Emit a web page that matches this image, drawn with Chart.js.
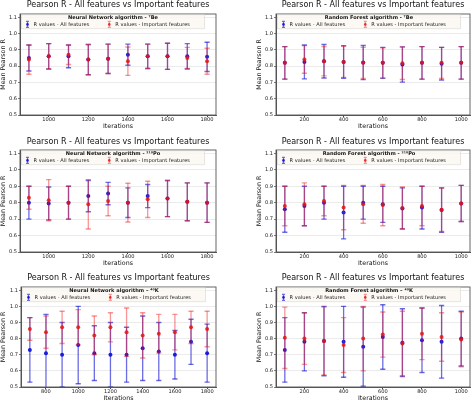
<!DOCTYPE html>
<html>
<head>
<meta charset="utf-8">
<script src="https://cdn.jsdelivr.net/npm/chart.js@4.4.0/dist/chart.umd.min.js"></script>
<style>
  html, body { margin: 0; padding: 0; background: #fff; }
  #wrap { position: relative; width: 474px; height: 402px; overflow: hidden; }
  #wrap canvas { position: absolute; }
</style>
</head>
<body>
<div id="wrap">
  <canvas id="c1"></canvas>
  <canvas id="c2"></canvas>
  <canvas id="c3"></canvas>
  <canvas id="c4"></canvas>
  <canvas id="c5"></canvas>
  <canvas id="c6"></canvas>
</div>
<script>
// Iterations on the x axis
const itersNN = [900, 1000, 1100, 1200, 1300, 1400, 1500, 1600, 1700, 1800];
const itersRF = [100, 200, 300, 400, 500, 600, 700, 800, 900, 1000];
const itersNNK = [700, 800, 900, 1000, 1100, 1200, 1300, 1400, 1500, 1600, 1700, 1800];

// tick labels
const xTicksNN = [1000, 1200, 1400, 1600, 1800];
const xTicksRF = [200, 400, 600, 800, 1000];
const xTicksNNK = [800, 1000, 1200, 1400, 1600, 1800];
const yTicks = [0.5, 0.6, 0.7, 0.8, 0.9, 1.0, 1.1];

const seriesLabels = ['R values - All features', 'R values - Important features'];
const plotTitle = 'Pearson R - All features vs Important features';
const legendTitles = [
  'Neural Network algorithm - \u2077Be',
  'Random Forest algorithm - \u2077Be',
  'Neural Network algorithm - \u00b2\u00b9\u2070Po',
  'Random Forest algorithm - \u00b2\u00b9\u2070Po',
  'Neural Network algorithm \u2013 \u2074\u2070K',
  'Random Forest algorithm \u2013 \u2074\u2070K'
];

// 7Be - neural network
const beNNAllMean = [0.85, 0.86, 0.86, 0.84, 0.845, 0.87, 0.86, 0.86, 0.86, 0.857];
const beNNAllErr  = [0.08, 0.078, 0.07, 0.093, 0.09, 0.065, 0.075, 0.08, 0.078, 0.09];
const beNNImpMean = [0.84, 0.86, 0.87, 0.84, 0.845, 0.83, 0.86, 0.86, 0.85, 0.83];
const beNNImpErr  = [0.09, 0.078, 0.06, 0.093, 0.09, 0.087, 0.075, 0.08, 0.065, 0.08];

// 7Be - random forest
const beRFAllMean = [0.82, 0.826, 0.83, 0.826, 0.822, 0.82, 0.81, 0.82, 0.815, 0.82];
const beRFAllErr  = [0.10, 0.104, 0.103, 0.10, 0.105, 0.095, 0.108, 0.10, 0.10, 0.10];
const beRFImpMean = [0.82, 0.841, 0.83, 0.826, 0.82, 0.82, 0.818, 0.82, 0.82, 0.82];
const beRFImpErr  = [0.10, 0.085, 0.09, 0.095, 0.095, 0.092, 0.10, 0.10, 0.095, 0.10];

// 210Po - neural network
const poNNAllMean = [0.80, 0.795, 0.80, 0.84, 0.855, 0.80, 0.84, 0.825, 0.805, 0.80];
const poNNAllErr  = [0.10, 0.10, 0.10, 0.095, 0.068, 0.09, 0.07, 0.11, 0.115, 0.12];
const poNNImpMean = [0.83, 0.815, 0.80, 0.79, 0.81, 0.80, 0.82, 0.825, 0.805, 0.80];
const poNNImpErr  = [0.07, 0.125, 0.10, 0.15, 0.09, 0.118, 0.11, 0.11, 0.115, 0.12];

// 210Po - random forest
const poRFAllMean = [0.76, 0.78, 0.80, 0.74, 0.80, 0.79, 0.765, 0.77, 0.755, 0.795];
const poRFAllErr  = [0.14, 0.12, 0.10, 0.16, 0.10, 0.11, 0.125, 0.13, 0.135, 0.11];
const poRFImpMean = [0.78, 0.79, 0.81, 0.77, 0.79, 0.785, 0.768, 0.78, 0.757, 0.795];
const poRFImpErr  = [0.12, 0.13, 0.09, 0.135, 0.115, 0.125, 0.127, 0.12, 0.132, 0.11];

// 40K - neural network
const kNNAllMean = [0.73, 0.71, 0.70, 0.76, 0.71, 0.70, 0.70, 0.74, 0.72, 0.70, 0.78, 0.71];
const kNNAllErr  = [0.20, 0.24, 0.20, 0.24, 0.17, 0.20, 0.17, 0.20, 0.18, 0.15, 0.14, 0.18];
const kNNImpMean = [0.86, 0.84, 0.87, 0.87, 0.82, 0.87, 0.84, 0.82, 0.83, 0.84, 0.87, 0.86];
const kNNImpErr  = [0.07, 0.10, 0.10, 0.11, 0.12, 0.09, 0.15, 0.14, 0.12, 0.11, 0.10, 0.11];

// 40K - random forest
const kRFAllMean = [0.73, 0.78, 0.785, 0.78, 0.75, 0.81, 0.775, 0.79, 0.78, 0.80];
const kRFAllErr  = [0.20, 0.18, 0.215, 0.22, 0.245, 0.20, 0.21, 0.20, 0.225, 0.17];
const kRFImpMean = [0.805, 0.80, 0.785, 0.76, 0.80, 0.825, 0.77, 0.83, 0.81, 0.795];
const kRFImpErr  = [0.19, 0.16, 0.21, 0.17, 0.20, 0.14, 0.20, 0.16, 0.15, 0.17];

const BLUE_BAR = 'rgba(10, 10, 210, 0.6)';
const RED_BAR = 'rgba(240, 20, 20, 0.45)';
const BLUE_PT = 'rgba(20, 20, 220, 0.95)';
const RED_PT = 'rgba(230, 20, 20, 0.85)';
const FONT = '"DejaVu Sans", sans-serif';
const TITLE_SIZE = 8;
const LABEL_SIZE = 6.3;
const TICK_SIZE = 5.1;
const LEGEND_SIZE = 5.1;

Chart.defaults.font.family = FONT;
Chart.defaults.color = '#222';

// vertical error bars with caps, drawn just under each dataset's markers
const errorBars = {
  id: 'errorBars',
  beforeDatasetDraw(chart, args) {
    const ds = chart.data.datasets[args.index];
    if (!ds.err) return;
    const { ctx, chartArea: ca } = chart;
    const xs = chart.scales.x, ys = chart.scales.y;
    ctx.save();
    ctx.beginPath();
    ctx.rect(ca.left, ca.top, ca.right - ca.left, ca.bottom - ca.top);
    ctx.clip();
    ctx.strokeStyle = ds.barColor;
    ds.data.forEach((p, i) => {
      const px = xs.getPixelForValue(p.x);
      const hi = ys.getPixelForValue(p.y + ds.err[i]);
      const lo = ys.getPixelForValue(p.y - ds.err[i]);
      ctx.lineWidth = 1.3;
      ctx.beginPath();
      ctx.moveTo(px, hi);
      ctx.lineTo(px, lo);
      ctx.stroke();
      ctx.lineWidth = 1.4;
      ctx.beginPath();
      ctx.moveTo(px - 2.6, hi);
      ctx.lineTo(px + 2.6, hi);
      ctx.moveTo(px - 2.6, lo);
      ctx.lineTo(px + 2.6, lo);
      ctx.stroke();
    });
    ctx.restore();
  }
};

// full box around the axes
const frame = {
  id: 'frame',
  afterDatasetsDraw(chart) {
    const { ctx, chartArea: ca } = chart;
    ctx.save();
    ctx.strokeStyle = '#555';
    ctx.lineWidth = 0.9;
    ctx.strokeRect(ca.left, ca.top, ca.right - ca.left, ca.bottom - ca.top);
    ctx.restore();
  }
};

// matplotlib-like legend inside the top of the axes
const boxLegend = {
  id: 'boxLegend',
  afterDraw(chart, args, opts) {
    const { ctx, chartArea: ca } = chart;
    const left = ca.left + 1.5, top = ca.top + 0.8, w = 183, h = 14;
    ctx.save();
    ctx.fillStyle = 'rgba(252, 248, 242, 0.85)';
    ctx.strokeStyle = 'rgba(215, 210, 205, 0.9)';
    ctx.lineWidth = 0.6;
    ctx.fillRect(left, top, w, h);
    ctx.strokeRect(left, top, w, h);

    ctx.fillStyle = '#111';
    ctx.textBaseline = 'middle';
    ctx.textAlign = 'center';
    ctx.font = 'bold ' + LEGEND_SIZE + 'px ' + FONT;
    ctx.fillText(opts.title, left + w / 2, top + 3.2);

    ctx.textAlign = 'left';
    ctx.font = LEGEND_SIZE + 'px ' + FONT;
    const ey = top + 9.6;
    let x = left + 6;
    chart.data.datasets.forEach((ds) => {
      ctx.strokeStyle = ds.barColor;
      ctx.lineWidth = 1.2;
      ctx.beginPath();
      ctx.moveTo(x, ey - 3); ctx.lineTo(x, ey + 3);
      ctx.moveTo(x - 1.5, ey - 3); ctx.lineTo(x + 1.5, ey - 3);
      ctx.moveTo(x - 1.5, ey + 3); ctx.lineTo(x + 1.5, ey + 3);
      ctx.stroke();
      ctx.fillStyle = ds.backgroundColor;
      ctx.beginPath();
      ctx.arc(x, ey, 1.3, 0, Math.PI * 2);
      ctx.fill();
      ctx.fillStyle = '#222';
      ctx.fillText(ds.label, x + 6, ey);
      x += 6 + ctx.measureText(ds.label).width + 20;
    });
    ctx.restore();
  }
};

const panels = [
  { id: 'c1', pos: [0, 0, 237, 135], area: [20, 14, 216, 115], titleY: 4.8, yLabelX: 3, xLabelY: 126,
    iters: itersNN, xTicks: xTicksNN, allMean: beNNAllMean, allErr: beNNAllErr, impMean: beNNImpMean, impErr: beNNImpErr, legend: legendTitles[0] },
  { id: 'c2', pos: [237, 0, 237, 135], area: [39, 14, 235, 115], titleY: 4.8, yLabelX: 22, xLabelY: 126,
    iters: itersRF, xTicks: xTicksRF, allMean: beRFAllMean, allErr: beRFAllErr, impMean: beRFImpMean, impErr: beRFImpErr, legend: legendTitles[1] },
  { id: 'c3', pos: [0, 135, 237, 133], area: [20, 15, 216, 117], titleY: 6.5, yLabelX: 3, xLabelY: 128,
    iters: itersNN, xTicks: xTicksNN, allMean: poNNAllMean, allErr: poNNAllErr, impMean: poNNImpMean, impErr: poNNImpErr, legend: legendTitles[2] },
  { id: 'c4', pos: [237, 135, 237, 133], area: [39, 15, 235, 117], titleY: 6.5, yLabelX: 22, xLabelY: 128,
    iters: itersRF, xTicks: xTicksRF, allMean: poRFAllMean, allErr: poRFAllErr, impMean: poRFImpMean, impErr: poRFImpErr, legend: legendTitles[3] },
  { id: 'c5', pos: [0, 268, 237, 134], area: [21, 19, 216, 119], titleY: 9.5, yLabelX: 3, xLabelY: 131,
    iters: itersNNK, xTicks: xTicksNNK, allMean: kNNAllMean, allErr: kNNAllErr, impMean: kNNImpMean, impErr: kNNImpErr, legend: legendTitles[4] },
  { id: 'c6', pos: [237, 268, 237, 134], area: [39, 19, 235, 119], titleY: 9.5, yLabelX: 22, xLabelY: 131,
    iters: itersRF, xTicks: xTicksRF, allMean: kRFAllMean, allErr: kRFAllErr, impMean: kRFImpMean, impErr: kRFImpErr, legend: legendTitles[5] }
];

function buildPanel(p) {
  const [left, top, w, h] = p.pos;
  const [al, at, ar, ab] = p.area;
  const canvas = document.getElementById(p.id);
  canvas.width = w;
  canvas.height = h;
  Object.assign(canvas.style, { left: left + 'px', top: top + 'px', width: w + 'px', height: h + 'px' });

  const titleLH = TITLE_SIZE * 1.2;
  const labelLH = LABEL_SIZE * 1.2;
  const padLeft = Math.max(0, p.yLabelX - labelLH / 2);
  const yWidth = al - padLeft;
  const xHeight = h - ab;
  const titleTop = Math.max(0, p.titleY - titleLH / 2);

  const first = p.iters[0], last = p.iters[p.iters.length - 1];
  const margin = (last - first) * 0.05;

  new Chart(canvas, {
    type: 'scatter',
    data: {
      datasets: [
        {
          label: seriesLabels[0],
          data: p.iters.map((x, i) => ({ x, y: p.allMean[i] })),
          err: p.allErr,
          barColor: BLUE_BAR,
          backgroundColor: BLUE_PT,
          borderWidth: 0,
          pointRadius: 2,
          order: 2
        },
        {
          label: seriesLabels[1],
          data: p.iters.map((x, i) => ({ x, y: p.impMean[i] })),
          err: p.impErr,
          barColor: RED_BAR,
          backgroundColor: RED_PT,
          borderWidth: 0,
          pointRadius: 2,
          order: 1
        }
      ]
    },
    options: {
      responsive: false,
      animation: false,
      layout: { padding: { left: padLeft, right: w - ar, top: 0, bottom: 0 } },
      plugins: {
        legend: { display: false },
        tooltip: { enabled: false },
        title: {
          display: true,
          fullSize: false,
          text: plotTitle,
          color: '#111',
          font: { size: TITLE_SIZE, weight: 'normal', lineHeight: 1.2 },
          padding: { top: titleTop, bottom: at - titleTop - titleLH }
        },
        boxLegend: { title: p.legend }
      },
      scales: {
        x: {
          type: 'linear',
          min: first - margin,
          max: last + margin,
          afterFit: (s) => { s.height = xHeight; },
          afterBuildTicks: (s) => { s.ticks = p.xTicks.map((v) => ({ value: v })); },
          ticks: {
            autoSkip: false,
            maxRotation: 0,
            padding: 0,
            color: '#222',
            font: { size: TICK_SIZE },
            callback: (v) => String(v)
          },
          grid: { drawOnChartArea: false, tickLength: 2, tickColor: '#444' },
          border: { display: true, color: '#555' },
          title: {
            display: true,
            text: 'Iterations',
            color: '#111',
            font: { size: LABEL_SIZE, lineHeight: 1.2 },
            padding: { top: 0, bottom: Math.max(0, h - p.xLabelY - labelLH / 2) }
          }
        },
        y: {
          min: 0.5,
          max: 1.12,
          afterFit: (s) => { s.width = yWidth; },
          afterBuildTicks: (s) => { s.ticks = yTicks.map((v) => ({ value: v })); },
          ticks: {
            padding: 1,
            color: '#222',
            font: { size: TICK_SIZE },
            callback: (v) => Number(v).toFixed(1)
          },
          grid: { color: '#e2e2e2', lineWidth: 0.7, tickLength: 2, tickColor: '#444' },
          border: { display: true, color: '#555' },
          title: {
            display: true,
            text: 'Mean Pearson R',
            color: '#111',
            font: { size: LABEL_SIZE, lineHeight: 1.2 },
            padding: 0
          }
        }
      }
    },
    plugins: [errorBars, frame, boxLegend]
  });
}

panels.forEach(buildPanel);
</script>
</body>
</html>
